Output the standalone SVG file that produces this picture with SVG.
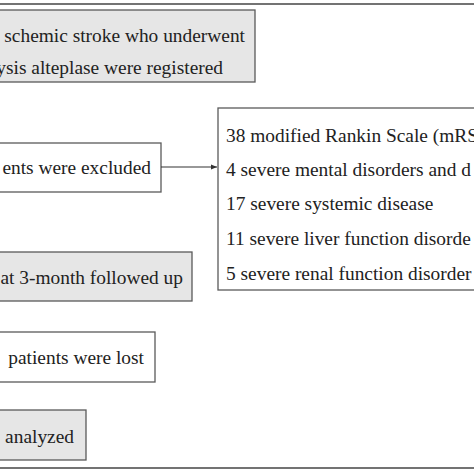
<svg xmlns="http://www.w3.org/2000/svg" width="474" height="474" viewBox="0 0 474 474">
<style>
.box{stroke:#5a5a5a;stroke-width:1.3}
.g{fill:#e6e6e6}
.w{fill:#ffffff}
.t{font-family:"Liberation Serif","Times New Roman",serif;font-size:19.4px;fill:#222}
.e{text-anchor:end}
.rule{stroke:#444;stroke-width:1.6}
</style>
<defs>
<marker id="ah" viewBox="0 0 10 10" refX="10" refY="5" markerWidth="6" markerHeight="6" orient="auto" markerUnits="userSpaceOnUse">
<path d="M0,1 L10,5 L0,9 z" fill="#333"/>
</marker>
</defs>
<rect width="474" height="474" fill="#ffffff"/>
<line class="rule" x1="0" y1="4" x2="474" y2="4"/>
<line class="rule" x1="0" y1="468" x2="474" y2="468"/>
<g id="registered">
<rect class="box g" x="-10" y="10" width="265" height="72"/>
<text class="t e" x="245" y="42">schemic stroke who underwent</text>
<text class="t e" x="223" y="74">ysis alteplase were registered</text>
</g>
<g id="excluded">
<rect class="box w" x="-10" y="143" width="171" height="49"/>
<text class="t e" x="151" y="174">ents were excluded</text>
</g>
<g id="reasons">
<rect class="box w" x="218" y="108" width="270" height="182"/>
<text class="t" x="226" y="142">38 modified Rankin Scale (mRS</text>
<text class="t" x="226" y="176">4 severe mental disorders and d</text>
<text class="t" x="226" y="210">17 severe systemic disease</text>
<text class="t" x="226" y="245">11 severe liver function disorde</text>
<text class="t" x="226" y="280">5 severe renal function disorder</text>
</g>
<g id="followup">
<rect class="box g" x="-10" y="252" width="202" height="49"/>
<text class="t e" x="183" y="284">at 3-month followed up</text>
</g>
<g id="lost">
<rect class="box w" x="-10" y="332" width="165" height="50"/>
<text class="t e" x="144" y="364">patients were lost</text>
</g>
<g id="analyzed">
<rect class="box g" x="-10" y="410" width="96" height="50"/>
<text class="t e" x="74" y="443">analyzed</text>
</g>
<g id="connectors">
<line x1="161" y1="167" x2="217" y2="167" stroke="#333" stroke-width="1.2" marker-end="url(#ah)"/>
</g>
</svg>
